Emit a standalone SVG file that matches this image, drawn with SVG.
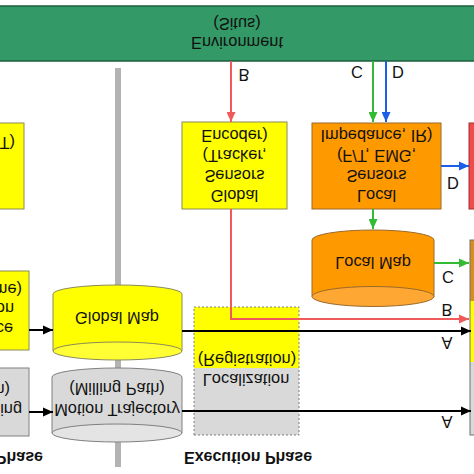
<svg xmlns="http://www.w3.org/2000/svg" width="474" height="474" viewBox="0 0 474 474">
<defs>
<style>
text{font-family:"Liberation Sans",Arial,sans-serif;font-size:16.4px;fill:#111}
.m{text-anchor:middle}
.e{text-anchor:end}
.b{font-weight:bold;font-size:16px}
.yel{fill:#ffff00;stroke:#8a8a5a;stroke-width:1}
.org{fill:#ff9900;stroke:#9a6a2a;stroke-width:1}
.gry{fill:#d9d9d9;stroke:#808080;stroke-width:1}
.ln{fill:none;stroke-width:2}
</style>
<marker id="ar" markerWidth="11" markerHeight="10" refX="10" refY="4.5" orient="auto" markerUnits="userSpaceOnUse"><path d="M0,0 L10,4.5 L0,9 z" fill="#f05a5a"/></marker>
<marker id="ag" markerWidth="11" markerHeight="10" refX="10" refY="4.5" orient="auto" markerUnits="userSpaceOnUse"><path d="M0,0 L10,4.5 L0,9 z" fill="#33bb33"/></marker>
<marker id="ab" markerWidth="11" markerHeight="10" refX="10" refY="4.5" orient="auto" markerUnits="userSpaceOnUse"><path d="M0,0 L10,4.5 L0,9 z" fill="#1a5fe6"/></marker>
<marker id="ak" markerWidth="11" markerHeight="10" refX="10" refY="4.5" orient="auto" markerUnits="userSpaceOnUse"><path d="M0,0 L10,4.5 L0,9 z" fill="#000"/></marker>
</defs>
<rect x="0" y="0" width="474" height="474" fill="#fff"/>
<g transform="translate(0,474) scale(1,-1)">
<rect id="divider" x="115" y="7" width="6" height="399" fill="#b3b3b3"/>
<g id="environment">
<rect x="-2" y="413" width="478" height="55" fill="#339966" stroke="#1e5e3e" stroke-width="1.5"/>
<text class="m" x="237" y="436.8">Environment</text>
<text class="m" x="237" y="455.8">(Situs)</text>
</g>
<g id="left-top">
<rect class="yel" x="-80" y="265" width="104" height="86"/>
<text class="e" x="15" y="336.8">T)</text>
</g>
<g id="global-sensors">
<rect class="yel" x="182" y="265" width="105" height="87"/>
<text class="m" x="234.5" y="283.8">Global</text>
<text class="m" x="234.5" y="303.8">Sensors</text>
<text class="m" x="234.5" y="323.8">(Tracker,</text>
<text class="m" x="234.5" y="343.8">Encoder)</text>
</g>
<g id="local-sensors">
<rect class="org" x="312" y="265" width="129" height="86"/>
<text class="m" x="376.5" y="283.8">Local</text>
<text class="m" x="376.5" y="303.8">Sensors</text>
<text class="m" x="376.5" y="323.8">(F/T, EMG,</text>
<text class="m" x="376.5" y="343.8">Impedance, IR)</text>
</g>
<g id="right-top">
<rect x="469" y="265" width="20" height="86" fill="#f24b4b" stroke="#9a3030" stroke-width="1"/>
</g>
<g id="local-map">
<path class="org" d="M312,177.5 V234 A61,10 0 0 0 434,234 V177.5 Z"/>
<ellipse cx="373" cy="177.5" rx="61" ry="10" fill="#ffa733" stroke="#9a6a2a" stroke-width="1"/>
<text class="m" x="373" y="216.8">Local Map</text>
</g>
<g id="left-mid">
<rect class="yel" x="-80" y="124" width="109" height="79"/>
<text class="e" x="13" y="150.9">ce</text>
<text class="e" x="14" y="170.9">on</text>
<text class="e" x="22" y="189.9">me)</text>
</g>
<g id="global-map">
<path class="yel" d="M53,123 V180 A64.5,9 0 0 0 182,180 V123 Z"/>
<ellipse cx="117.5" cy="123" rx="64.5" ry="9" fill="#ffff33" stroke="#8a8a5a" stroke-width="1"/>
<text class="m" x="117" y="161.8">Global Map</text>
</g>
<g id="left-bottom">
<rect class="gry" x="-80" y="38" width="109" height="68"/>
<text class="e" x="22" y="69.9">ing</text>
<text class="e" x="10" y="89.9">n)</text>
</g>
<g id="motion-trajectory">
<path class="gry" d="M52,41 V97 A65,9 0 0 0 182,97 V41 Z"/>
<ellipse cx="117" cy="41" rx="65" ry="9" fill="#e4e4e4" stroke="#808080" stroke-width="1"/>
<text class="m" x="117" y="69.8">Motion Trajectory</text>
<text class="m" x="117" y="90.8">(Milling Path)</text>
</g>
<g id="localization">
<rect x="194" y="39" width="105" height="67" fill="#d9d9d9"/>
<rect x="194" y="106" width="105" height="61" fill="#ffff00"/>
<rect x="194" y="39" width="105" height="128" fill="none" stroke="#808080" stroke-width="1" stroke-dasharray="2,2"/>
<text class="m" x="246" y="99.8">Localization</text>
<text class="m" x="247" y="119.8">(Registration)</text>
</g>
<g id="right-bottom">
<rect x="470" y="39" width="20" height="73" fill="#d9d9d9"/>
<rect x="470" y="112" width="20" height="61" fill="#ffff00"/>
<rect x="470" y="173" width="20" height="61" fill="#d68f1f"/>
<rect x="470" y="39" width="20" height="195" fill="none" stroke="#707070" stroke-width="1"/>
</g>
<g id="phases">
<text class="e b" x="43" y="22">Phase</text>
<text class="b" x="184" y="22">Execution Phase</text>
</g>
<g id="connectors">
<path class="ln" stroke="#f05a5a" d="M231,413 V352" marker-end="url(#ar)"/>
<path class="ln" stroke="#f05a5a" d="M231,265 V155 H469" marker-end="url(#ar)"/>
<path class="ln" stroke="#33bb33" d="M373,413 V352" marker-end="url(#ag)"/>
<path class="ln" stroke="#1a5fe6" d="M386,413 V352" marker-end="url(#ab)"/>
<path class="ln" stroke="#33bb33" d="M373,265 V245" marker-end="url(#ag)"/>
<path class="ln" stroke="#1a5fe6" d="M441,308 H469" marker-end="url(#ab)"/>
<path class="ln" stroke="#33bb33" d="M434,211 H469" marker-end="url(#ag)"/>
<path class="ln" stroke="#000" stroke-width="2.5" d="M29,144 H53" marker-end="url(#ak)"/>
<path class="ln" stroke="#000" stroke-width="2.5" d="M182,143 H471" marker-end="url(#ak)"/>
<path class="ln" stroke="#000" stroke-width="2.5" d="M29,62 H53" marker-end="url(#ak)"/>
<path class="ln" stroke="#000" stroke-width="2.5" d="M182,63 H471" marker-end="url(#ak)"/>
<text class="m" x="244" y="404.8">B</text>
<text class="m" x="357" y="407.8">C</text>
<text class="m" x="398" y="407.8">D</text>
<text class="m" x="453" y="296.8">D</text>
<text class="m" x="448" y="202.8">C</text>
<text class="m" x="447" y="169.8">B</text>
<text class="m" x="447" y="136.8">A</text>
<text class="m" x="447" y="57.8">A</text>
</g>
</g>
</svg>
